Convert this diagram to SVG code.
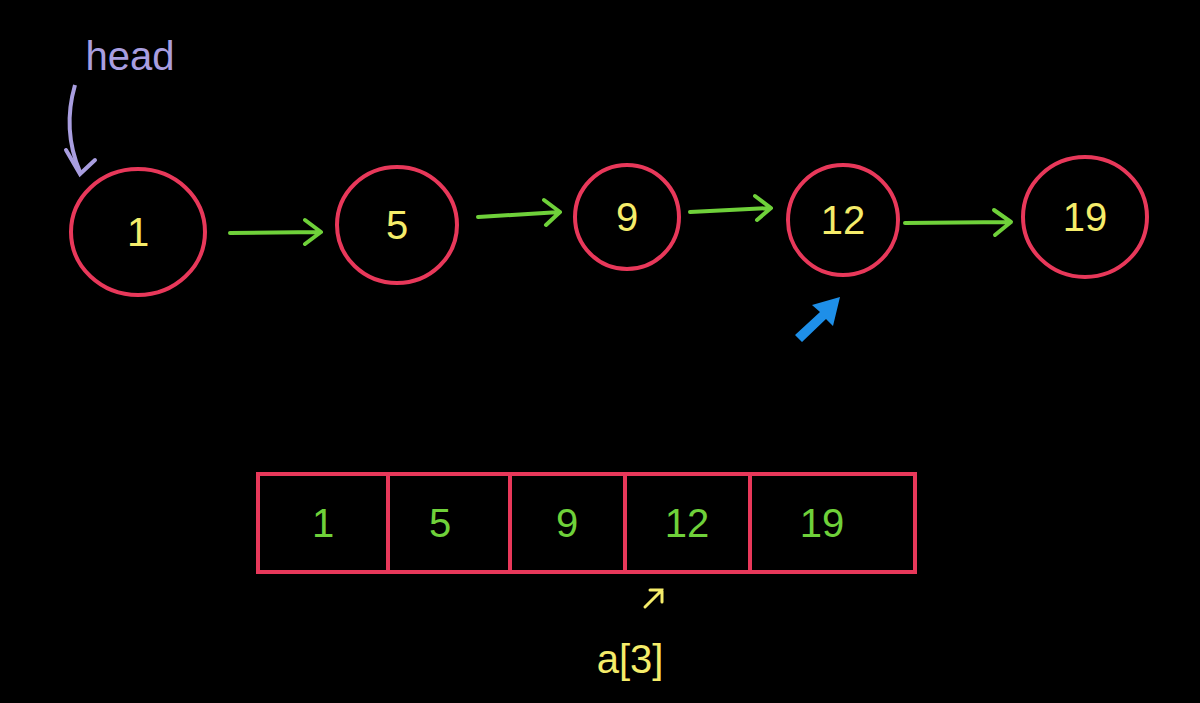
<svg xmlns="http://www.w3.org/2000/svg" width="1200" height="703" viewBox="0 0 1200 703">
<defs>
<style>
.n{fill:none;stroke:#e8385a;stroke-width:4}
.t{font-family:"Comic Sans MS","Liberation Sans",sans-serif;font-size:40px;text-anchor:middle}
.y{fill:#f5ec6a}.g{fill:#6fd13a}
.c{stroke:#6fd13a;stroke-width:4;fill:none;stroke-linecap:round;stroke-linejoin:round}
</style>
</defs>
<rect width="1200" height="703" fill="#000"/>
<g id="head">
<text x="130" y="70" font-family="Liberation Sans,sans-serif" font-size="40" fill="#a99ee0" text-anchor="middle">head</text>
<path d="M75 85 Q62 130 80 172" stroke="#a99ee0" stroke-width="4" fill="none"/>
<path d="M66 150 L80 174 L95 160" stroke="#a99ee0" stroke-width="4" fill="none" stroke-linecap="round"/>
</g>
<g id="n1"><ellipse class="n" cx="138" cy="232" rx="67" ry="63"/><text class="t y" x="138" y="246">1</text></g>
<g id="n2"><ellipse class="n" cx="397" cy="225" rx="60" ry="58"/><text class="t y" x="397" y="239">5</text></g>
<g id="n3"><ellipse class="n" cx="627" cy="217" rx="52" ry="52"/><text class="t y" x="627" y="231">9</text></g>
<g id="n4"><ellipse class="n" cx="843" cy="220" rx="55" ry="55"/><text class="t y" x="843" y="234">12</text></g>
<g id="n5"><ellipse class="n" cx="1085" cy="217" rx="62" ry="60"/><text class="t y" x="1085" y="231">19</text></g>
<g id="connectors">
<path class="c" d="M230 233 L320 232 M305 220 L321 232 L305 244"/>
<path class="c" d="M478 217 L560 212 M544 200 L560 212 L546 225"/>
<path class="c" d="M690 212 L770 208 M755 196 L771 208 L757 220"/>
<path class="c" d="M905 223 L1010 222 M994 210 L1011 222 L995 235"/>
<path d="M840 297 L812 305 L820 312 L795 335 L802 342 L826 319 L833 326 Z" fill="#1e8fe8"/>
<path d="M645 607 L662 590 M650 590 L662 590 L662 602" stroke="#f5ec6a" stroke-width="3" fill="none" stroke-linecap="round"/>
</g>
<g id="array">
<rect class="n" x="258" y="474" width="657" height="98"/>
<path class="n" d="M388 474V572M510 474V572M625 474V572M750 474V572"/>
<text class="t g" x="323" y="537">1</text>
<text class="t g" x="440" y="537">5</text>
<text class="t g" x="567" y="537">9</text>
<text class="t g" x="687" y="537">12</text>
<text class="t g" x="822" y="537">19</text>
</g>
<g id="label"><text class="t y" x="630" y="673">a[3]</text></g>
</svg>
